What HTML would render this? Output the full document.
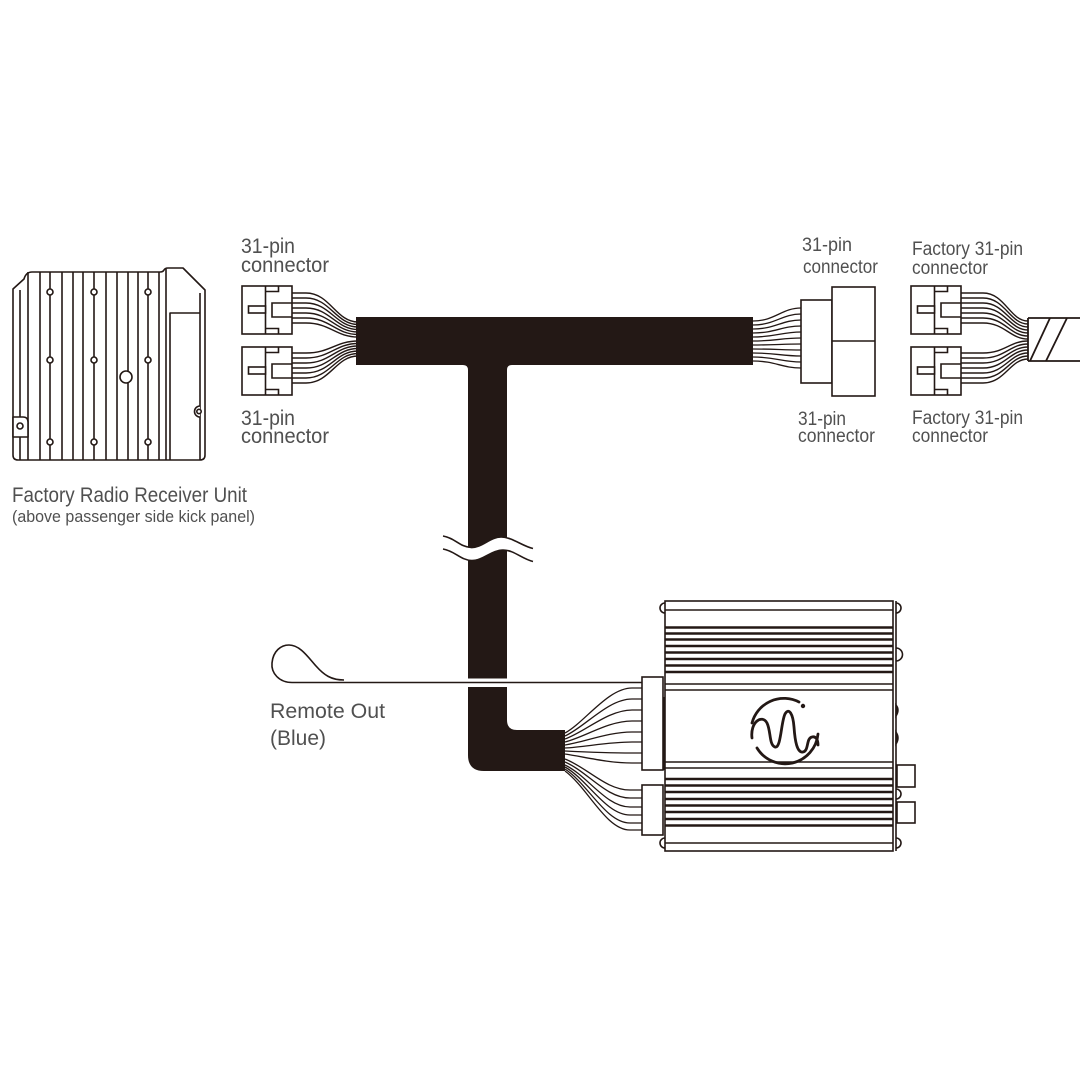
<!DOCTYPE html>
<html>
<head>
<meta charset="utf-8">
<style>
  html,body{margin:0;padding:0;background:#fff;}
  svg{display:block;}
  text{font-family:"Liberation Sans", sans-serif; fill:#505050;}
</style>
</head>
<body>
<svg width="1080" height="1080" viewBox="0 0 1080 1080" xmlns="http://www.w3.org/2000/svg">
  <rect x="0" y="0" width="1080" height="1080" fill="#fff"/>

  <!-- ============ Factory Radio Receiver Unit ============ -->
  <g fill="none" stroke="#231815" stroke-width="1.6" stroke-linejoin="round">
    <path d="M13 289 L24 279 Q26 272 32 272 H160 Q163 272 164 270 Q165 268 168 268 H183 L205 290 V455 Q205 460 200 460 H18 Q13 460 13 455 Z" fill="#fff"/>
    <line x1="20" y1="290" x2="20" y2="460"/>
    <line x1="28" y1="272" x2="28" y2="460"/>
    <line x1="40" y1="272" x2="40" y2="460"/>
    <line x1="50" y1="272" x2="50" y2="460"/>
    <line x1="62" y1="272" x2="62" y2="460"/>
    <line x1="73" y1="272" x2="73" y2="460"/>
    <line x1="83" y1="272" x2="83" y2="460"/>
    <line x1="94" y1="272" x2="94" y2="460"/>
    <line x1="106" y1="272" x2="106" y2="460"/>
    <line x1="117" y1="272" x2="117" y2="460"/>
    <line x1="128" y1="272" x2="128" y2="460"/>
    <line x1="138" y1="272" x2="138" y2="460"/>
    <line x1="148" y1="272" x2="148" y2="460"/>
    <line x1="159" y1="272" x2="159" y2="460"/>
    <line x1="166" y1="269" x2="166" y2="460"/>
    <path d="M170 460 V313 H200"/>
    <line x1="200" y1="293" x2="200" y2="460"/>
    <g fill="#fff">
      <circle cx="50" cy="292" r="3"/>
      <circle cx="94" cy="292" r="3"/>
      <circle cx="148" cy="292" r="3"/>
      <circle cx="50" cy="360" r="3"/>
      <circle cx="94" cy="360" r="3"/>
      <circle cx="148" cy="360" r="3"/>
      <circle cx="50" cy="442" r="3"/>
      <circle cx="94" cy="442" r="3"/>
      <circle cx="148" cy="442" r="3"/>
      <circle cx="126" cy="377" r="6"/>
    </g>
    <path d="M13 417 H23 Q28 417 28 422 V437 H13 Z" fill="#fff"/>
    <circle cx="20" cy="426" r="3" fill="#fff"/>
    <path d="M200 406 A5 5 0 0 0 200 417" fill="#fff"/>
    <circle cx="199" cy="411.5" r="2.2" fill="#fff"/>
  </g>

  <!-- ============ Left connectors ============ -->
  <g fill="#fff" stroke="#231815" stroke-width="1.6">
    <g transform="translate(242,286)">
      <rect x="0" y="0" width="50" height="48"/>
      <line x1="23.5" y1="0" x2="23.5" y2="48"/>
      <path d="M23.5 5.5 H36.5 V0" fill="none"/>
      <path d="M23.5 42.5 H36.5 V48" fill="none"/>
      <path d="M50 17 H30 V31 H50" fill="none"/>
      <rect x="6.5" y="20" width="17" height="7"/>
    </g>
    <g transform="translate(242,347)">
      <rect x="0" y="0" width="50" height="48"/>
      <line x1="23.5" y1="0" x2="23.5" y2="48"/>
      <path d="M23.5 5.5 H36.5 V0" fill="none"/>
      <path d="M23.5 42.5 H36.5 V48" fill="none"/>
      <path d="M50 17 H30 V31 H50" fill="none"/>
      <rect x="6.5" y="20" width="17" height="7"/>
    </g>
  </g>
  <g fill="none" stroke="#231815" stroke-width="1.4">
    <path d="M292 293 H306 C330 293 336 322 358 322"/>
    <path d="M292 298 H306 C330 298 336 324.5 358 324.5"/>
    <path d="M292 303 H306 C330 303 336 327 358 327"/>
    <path d="M292 308 H306 C330 308 336 329.5 358 329.5"/>
    <path d="M292 313 H306 C330 313 336 332 358 332"/>
    <path d="M292 318 H306 C330 318 336 334.5 358 334.5"/>
    <path d="M292 323 H306 C330 323 336 337 358 337"/>
    <path d="M292 353 H306 C330 353 336 341 358 341"/>
    <path d="M292 358 H306 C330 358 336 343.5 358 343.5"/>
    <path d="M292 363 H306 C330 363 336 346 358 346"/>
    <path d="M292 368 H306 C330 368 336 348.5 358 348.5"/>
    <path d="M292 373 H306 C330 373 336 351 358 351"/>
    <path d="M292 378 H306 C330 378 336 353.5 358 353.5"/>
    <path d="M292 383 H306 C330 383 336 356 358 356"/>
  </g>

  <!-- ============ T harness ============ -->
  <path d="M356 317 H753 V365 H512 Q507 365 507 370 V720 Q507 730 517 730 H565 V771 H484 Q468 771 468 755 V370 Q468 365 463 365 H356 Z" fill="#231815"/>
  <path d="M430 542.5 C446 544 458 554 471 554 S492 543.5 502 543.5 S524 553 545 555" fill="none" stroke="#fff" stroke-width="12"/>
  <g fill="none" stroke="#231815" stroke-width="1.6">
    <path d="M443 536 C455 538 460 547 471 547.5 S490 537 501 537 S522 546 533 548.5"/>
    <path d="M443 549 C455 551 461 560.5 472 560.5 S492 550 503 550 S522 559 533 561.5"/>
  </g>

  <!-- ============ Right middle connector ============ -->
  <g fill="none" stroke="#231815" stroke-width="1.3">
    <path d="M753 321 C775 321 782 308 801 308"/>
    <path d="M753 325 C775 325 782 314 801 314"/>
    <path d="M753 329 C775 329 782 320 801 320"/>
    <path d="M753 333 C775 333 782 326 801 326"/>
    <path d="M753 337 C775 337 782 332 801 332"/>
    <path d="M753 341 C775 341 782 338 801 338"/>
    <path d="M753 345 C775 345 782 344 801 344"/>
    <path d="M753 349 C775 349 782 350 801 350"/>
    <path d="M753 353 C775 353 782 356 801 356"/>
    <path d="M753 357 C775 357 782 362 801 362"/>
    <path d="M753 361 C775 361 782 368 801 368"/>
  </g>
  <g fill="#fff" stroke="#231815" stroke-width="1.6">
    <rect x="801" y="300" width="31" height="83"/>
    <rect x="832" y="287" width="43" height="109"/>
    <line x1="832" y1="341" x2="875" y2="341"/>
  </g>

  <!-- ============ Factory connectors ============ -->
  <g fill="#fff" stroke="#231815" stroke-width="1.6">
    <g transform="translate(911,286)">
      <rect x="0" y="0" width="50" height="48"/>
      <line x1="23.5" y1="0" x2="23.5" y2="48"/>
      <path d="M23.5 5.5 H36.5 V0" fill="none"/>
      <path d="M23.5 42.5 H36.5 V48" fill="none"/>
      <path d="M50 17 H30 V31 H50" fill="none"/>
      <rect x="6.5" y="20" width="17" height="7"/>
    </g>
    <g transform="translate(911,347)">
      <rect x="0" y="0" width="50" height="48"/>
      <line x1="23.5" y1="0" x2="23.5" y2="48"/>
      <path d="M23.5 5.5 H36.5 V0" fill="none"/>
      <path d="M23.5 42.5 H36.5 V48" fill="none"/>
      <path d="M50 17 H30 V31 H50" fill="none"/>
      <rect x="6.5" y="20" width="17" height="7"/>
    </g>
  </g>
  <g fill="none" stroke="#231815" stroke-width="1.4">
    <path d="M961 293 H983 C1005 293 1010 321 1028 321"/>
    <path d="M961 298 H983 C1005 298 1010 324 1028 324"/>
    <path d="M961 303 H983 C1005 303 1010 327 1028 327"/>
    <path d="M961 308 H983 C1005 308 1010 330 1028 330"/>
    <path d="M961 313 H983 C1005 313 1010 333 1028 333"/>
    <path d="M961 318 H983 C1005 318 1010 336 1028 336"/>
    <path d="M961 323 H983 C1005 323 1010 339 1028 339"/>
    <path d="M961 353 H983 C1005 353 1010 341 1028 341"/>
    <path d="M961 358 H983 C1005 358 1010 344 1028 344"/>
    <path d="M961 363 H983 C1005 363 1010 347 1028 347"/>
    <path d="M961 368 H983 C1005 368 1010 350 1028 350"/>
    <path d="M961 373 H983 C1005 373 1010 353 1028 353"/>
    <path d="M961 378 H983 C1005 378 1010 356 1028 356"/>
    <path d="M961 383 H983 C1005 383 1010 359 1028 359"/>
  </g>
  <g fill="none" stroke="#231815" stroke-width="1.8">
    <line x1="1028" y1="318" x2="1028" y2="361"/>
    <line x1="1028" y1="318" x2="1080" y2="318"/>
    <line x1="1028" y1="361" x2="1080" y2="361"/>
    <line x1="1050" y1="318" x2="1030" y2="361"/>
    <line x1="1067" y1="318" x2="1046" y2="361"/>
  </g>

  <!-- ============ Remote out ============ -->
  <rect x="466" y="678.5" width="43" height="8.5" fill="#fff"/>
  <g fill="none" stroke="#231815" stroke-width="1.6">
    <line x1="292" y1="682.5" x2="642" y2="682.5"/>
    <path d="M292 682.5 C279 682.5 271 673 272 663 C273 651 281 645 289 645 C300 645 308 657 316 666 C324 675 331 680 344 680"/>
  </g>

  <!-- ============ Amp wires ============ -->
  <g fill="none" stroke="#231815" stroke-width="1.3">
    <path d="M565 733 C585 722 608 688 632 688 H642"/>
    <path d="M565 736 C585 727 608 699 632 699 H642"/>
    <path d="M565 739 C585 732 608 710 632 710 H642"/>
    <path d="M565 742 C585 737 608 721 632 721 H642"/>
    <path d="M565 745 C585 742 608 732 632 732 H642"/>
    <path d="M565 748 C585 747 608 742 632 742 H642"/>
    <path d="M565 751 C585 752 608 753 632 753 H642"/>
    <path d="M565 754 C585 757 608 763 632 763 H642"/>
    <path d="M565 759 C588 768 606 790 630 790 H642"/>
    <path d="M565 762 C588 772 606 798 630 798 H642"/>
    <path d="M565 765 C588 776 606 807 630 807 H642"/>
    <path d="M565 767 C588 780 606 815 630 815 H642"/>
    <path d="M565 769 C588 784 606 823 630 823 H642"/>
    <path d="M565 771 C588 788 606 830 630 830 H642"/>
  </g>

  <!-- ============ Amplifier ============ -->
  <g stroke="#231815" fill="#fff" stroke-width="1.6">
    <path d="M665 603 A5 5 0 0 0 665 613"/>
    <path d="M665 838 A5 5 0 0 0 665 848"/>
    <path d="M896 603 A5 5 0 0 1 896 613"/>
    <path d="M896 648 A6 6 0 0 1 896 661"/>
    <path d="M896 789 A5 5 0 0 1 896 799"/>
    <path d="M896 838 A5 5 0 0 1 896 848"/>
    <rect x="665" y="601" width="228" height="250"/>
    <line x1="896" y1="601" x2="896" y2="851"/>
    <rect x="897" y="765" width="18" height="22"/>
    <rect x="897" y="802" width="18" height="21"/>
  </g>
  <path d="M896 705 Q900 710 896 716 Z" fill="#231815" stroke="#231815" stroke-width="1.5"/>
  <path d="M896 732 Q900 738 896 744 Z" fill="#231815" stroke="#231815" stroke-width="1.5"/>
  <g stroke="#231815" fill="none">
    <g stroke-width="1.5">
      <line x1="665" y1="610" x2="893" y2="610"/>
      <line x1="665" y1="684" x2="893" y2="684"/>
      <line x1="665" y1="690" x2="893" y2="690"/>
      <line x1="665" y1="762" x2="893" y2="762"/>
      <line x1="665" y1="768" x2="893" y2="768"/>
      <line x1="665" y1="843" x2="893" y2="843"/>
    </g>
    <g stroke-width="2.6">
      <line x1="665" y1="627.5" x2="893" y2="627.5"/>
      <line x1="665" y1="633.5" x2="893" y2="633.5"/>
      <line x1="665" y1="639.5" x2="893" y2="639.5"/>
      <line x1="665" y1="646" x2="893" y2="646"/>
      <line x1="665" y1="652.5" x2="893" y2="652.5"/>
      <line x1="665" y1="659" x2="893" y2="659"/>
      <line x1="665" y1="665.5" x2="893" y2="665.5"/>
      <line x1="665" y1="672" x2="893" y2="672"/>
      <line x1="665" y1="779" x2="893" y2="779"/>
      <line x1="665" y1="785.5" x2="893" y2="785.5"/>
      <line x1="665" y1="792" x2="893" y2="792"/>
      <line x1="665" y1="799" x2="893" y2="799"/>
      <line x1="665" y1="805.5" x2="893" y2="805.5"/>
      <line x1="665" y1="812" x2="893" y2="812"/>
      <line x1="665" y1="819" x2="893" y2="819"/>
      <line x1="665" y1="825.5" x2="893" y2="825.5"/>
    </g>
    <line x1="663" y1="697" x2="663" y2="770" stroke-width="3"/>
  </g>
  <g fill="#fff" stroke="#231815" stroke-width="1.6">
    <rect x="642" y="677" width="21" height="93"/>
    <rect x="642" y="785" width="21" height="50"/>
  </g>

  <!-- logo -->
  <g fill="none" stroke="#231815" stroke-width="2.8" stroke-linecap="round" stroke-linejoin="round">
    <path d="M752 723 A33 33 0 0 1 799 702"/>
    <path d="M757 748 A33 33 0 0 0 818 734"/>
    <path d="M752 738 C750 722 762 714 767 723 C771 731 769 745 775 747 C781 749 781 722 785 714 C789 707 793 714 794 727 C795 741 797 753 803 752 C809 751 806 738 812 737 C816 736 818 740 818 745"/>
  </g>
  <circle cx="803" cy="706" r="2.2" fill="#231815"/>

  <!-- ============ Text ============ -->
  <text x="241" y="253" font-size="21" textLength="54" lengthAdjust="spacingAndGlyphs">31-pin</text>
  <text x="241" y="272" font-size="21" textLength="88" lengthAdjust="spacingAndGlyphs">connector</text>
  <text x="241" y="425" font-size="21" textLength="54" lengthAdjust="spacingAndGlyphs">31-pin</text>
  <text x="241" y="443" font-size="21" textLength="88" lengthAdjust="spacingAndGlyphs">connector</text>

  <text x="12" y="502" font-size="21" textLength="235" lengthAdjust="spacingAndGlyphs">Factory Radio Receiver Unit</text>
  <text x="12" y="522" font-size="17" textLength="243" lengthAdjust="spacingAndGlyphs">(above passenger side kick panel)</text>

  <text x="802" y="251" font-size="19" textLength="50" lengthAdjust="spacingAndGlyphs">31-pin</text>
  <text x="803" y="273" font-size="19" textLength="75" lengthAdjust="spacingAndGlyphs">connector</text>
  <text x="798" y="425" font-size="19" textLength="48" lengthAdjust="spacingAndGlyphs">31-pin</text>
  <text x="798" y="442" font-size="19" textLength="77" lengthAdjust="spacingAndGlyphs">connector</text>

  <text x="912" y="255" font-size="19" textLength="111" lengthAdjust="spacingAndGlyphs">Factory 31-pin</text>
  <text x="912" y="274" font-size="19" textLength="76" lengthAdjust="spacingAndGlyphs">connector</text>
  <text x="912" y="424" font-size="19" textLength="111" lengthAdjust="spacingAndGlyphs">Factory 31-pin</text>
  <text x="912" y="442" font-size="19" textLength="76" lengthAdjust="spacingAndGlyphs">connector</text>

  <text x="270" y="718" font-size="21" textLength="115" lengthAdjust="spacingAndGlyphs">Remote Out</text>
  <text x="270" y="745" font-size="21" textLength="56" lengthAdjust="spacingAndGlyphs">(Blue)</text>
</svg>
</body>
</html>
